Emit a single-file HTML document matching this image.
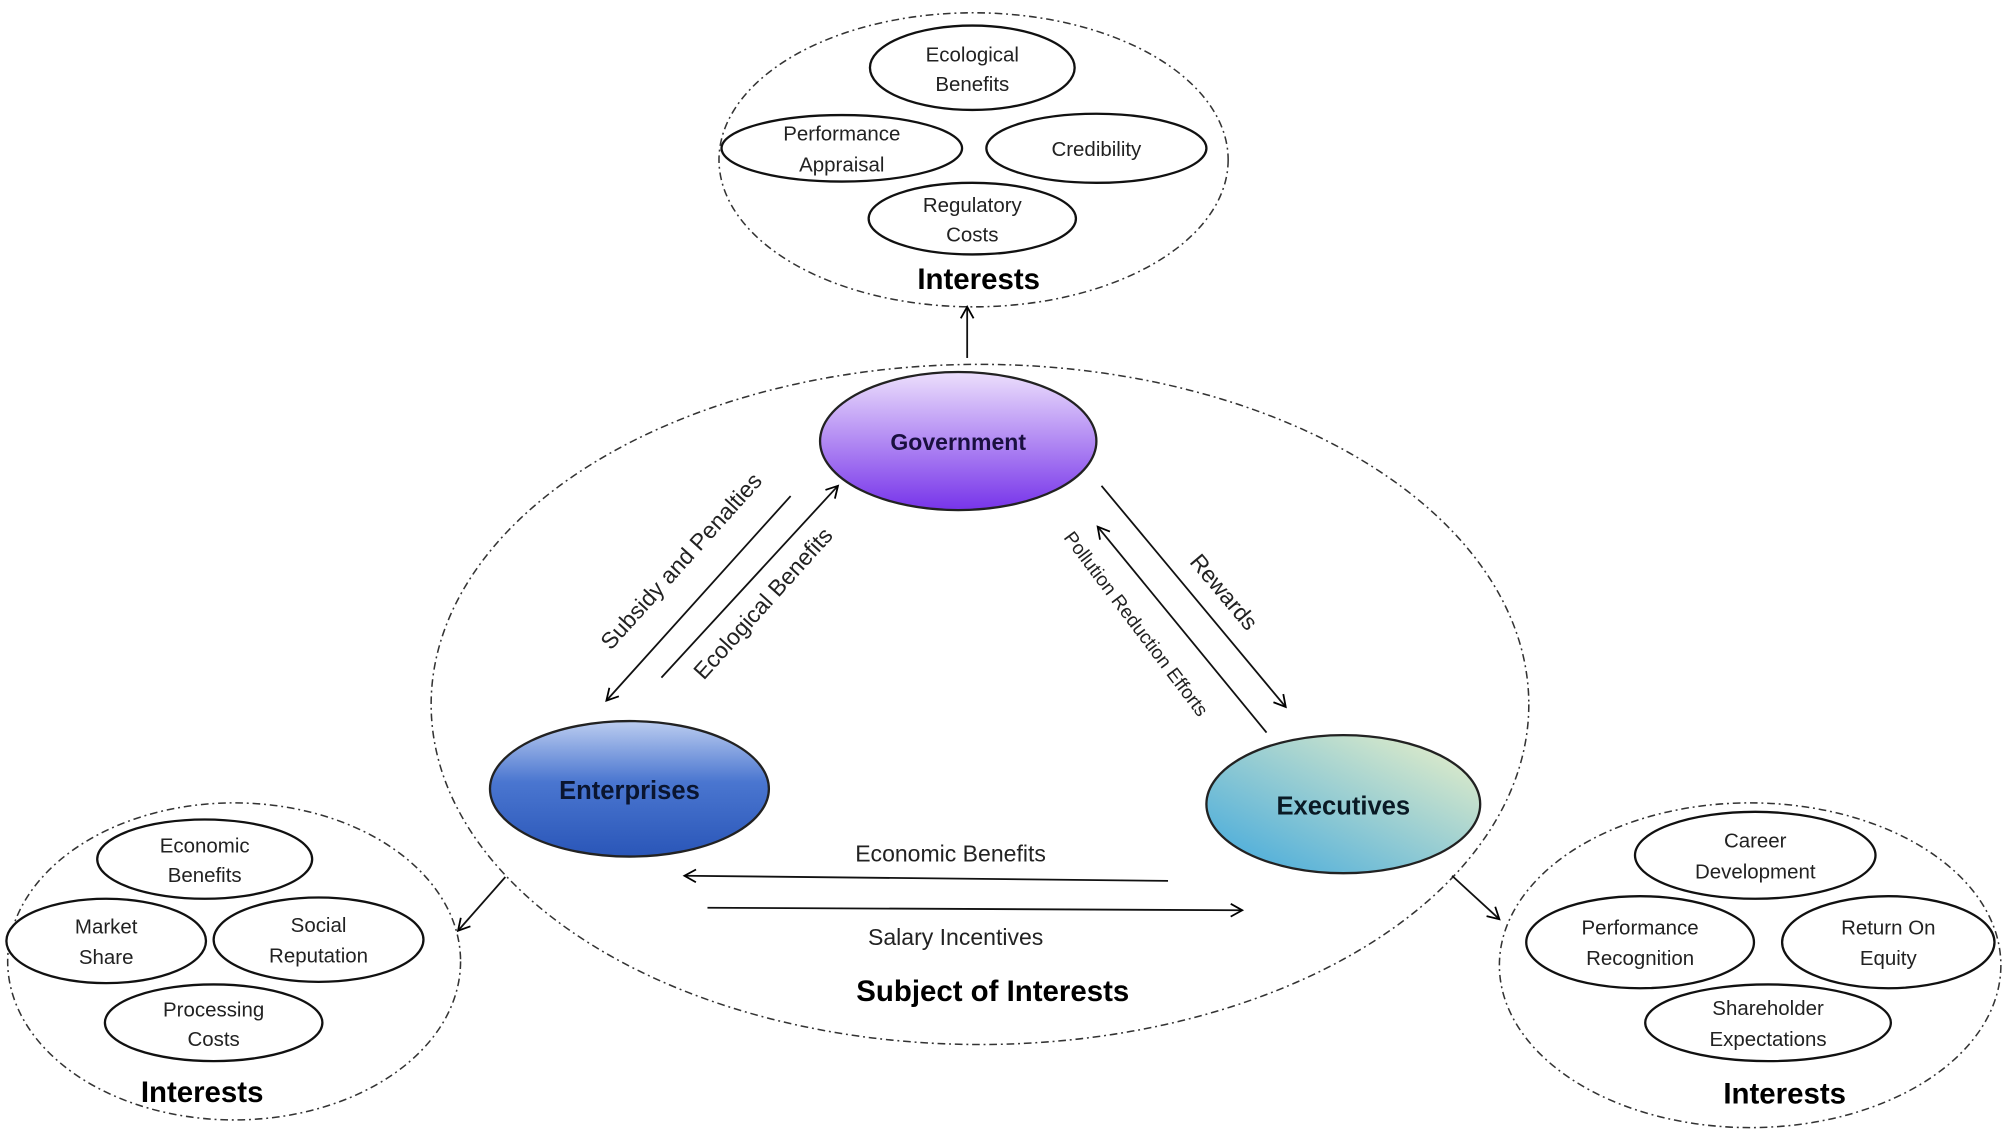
<!DOCTYPE html>
<html><head><meta charset="utf-8"><style>html,body{margin:0;padding:0;background:#fff}svg{display:block}</style></head><body>
<svg width="2006" height="1134" viewBox="0 0 1568 887" preserveAspectRatio="none" xmlns="http://www.w3.org/2000/svg" font-family="Liberation Sans, sans-serif">
<defs>
<linearGradient id="gp" x1="0" y1="0" x2="0" y2="1"><stop offset="0" stop-color="#ecdffc"/><stop offset="1" stop-color="#7734ea"/></linearGradient>
<linearGradient id="gb" x1="0" y1="0" x2="0" y2="1"><stop offset="0" stop-color="#bccdf0"/><stop offset="0.45" stop-color="#4a76d0"/><stop offset="1" stop-color="#2a56b8"/></linearGradient>
<linearGradient id="gc" x1="0" y1="1" x2="1" y2="0"><stop offset="0" stop-color="#3ea7dd"/><stop offset="1" stop-color="#eef2c8"/></linearGradient>
<marker id="a" markerWidth="12" markerHeight="12" refX="10" refY="6" orient="auto" markerUnits="userSpaceOnUse"><path d="M1,1 L10,6 L1,11" fill="none" stroke="#000" stroke-width="1.4"/></marker>
</defs>
<g fill="none" stroke="#333" stroke-width="1.2" stroke-dasharray="6,3,1.5,3">
<ellipse cx="761" cy="125" rx="199" ry="115"/>
<ellipse cx="766" cy="551" rx="429" ry="266"/>
<ellipse cx="183" cy="752" rx="177" ry="124"/>
<ellipse cx="1368" cy="755" rx="196" ry="127"/>
</g>
<g fill="#fff" stroke="#111" stroke-width="1.8">
<ellipse cx="760" cy="53" rx="80" ry="33"/>
<ellipse cx="658" cy="116" rx="94" ry="26"/>
<ellipse cx="857" cy="116" rx="86" ry="27"/>
<ellipse cx="760" cy="171" rx="81" ry="28"/>
<ellipse cx="160" cy="672" rx="84" ry="31"/>
<ellipse cx="83" cy="736" rx="78" ry="33"/>
<ellipse cx="249" cy="735" rx="82" ry="33"/>
<ellipse cx="167" cy="800" rx="85" ry="30"/>
<ellipse cx="1372" cy="669" rx="94" ry="34"/>
<ellipse cx="1282" cy="737" rx="89" ry="36"/>
<ellipse cx="1476" cy="737" rx="83" ry="36"/>
<ellipse cx="1382" cy="800" rx="96" ry="30"/>
</g>
<ellipse cx="749" cy="345" rx="108" ry="54" fill="url(#gp)" stroke="#222" stroke-width="1.8"/>
<ellipse cx="492" cy="617" rx="109" ry="53" fill="url(#gb)" stroke="#222" stroke-width="1.8"/>
<ellipse cx="1050" cy="629" rx="107" ry="54" fill="url(#gc)" stroke="#222" stroke-width="1.8"/>
<g stroke="#111" stroke-width="1.4" marker-end="url(#a)">
<line x1="756" y1="280" x2="756" y2="240"/>
<line x1="618" y1="388" x2="474" y2="548"/>
<line x1="517" y1="530" x2="655" y2="380"/>
<line x1="861" y1="380" x2="1005" y2="553"/>
<line x1="990" y1="573" x2="858" y2="412"/>
<line x1="913" y1="689" x2="535" y2="685"/>
<line x1="553" y1="710" x2="971" y2="712"/>
<line x1="395" y1="686" x2="358" y2="728"/>
<line x1="1135" y1="685" x2="1172" y2="719"/>
</g>
<g font-size="16" fill="#222" text-anchor="middle">
<text x="760" y="48">Ecological</text><text x="760" y="71">Benefits</text>
<text x="658" y="110">Performance</text><text x="658" y="134">Appraisal</text>
<text x="857" y="122">Credibility</text>
<text x="760" y="166">Regulatory</text><text x="760" y="189">Costs</text>
<text x="160" y="667">Economic</text><text x="160" y="690">Benefits</text>
<text x="83" y="730">Market</text><text x="83" y="754">Share</text>
<text x="249" y="729">Social</text><text x="249" y="753">Reputation</text>
<text x="167" y="795">Processing</text><text x="167" y="818">Costs</text>
<text x="1372" y="663">Career</text><text x="1372" y="687">Development</text>
<text x="1282" y="731">Performance</text><text x="1282" y="755">Recognition</text>
<text x="1476" y="731">Return On</text><text x="1476" y="755">Equity</text>
<text x="1382" y="794">Shareholder</text><text x="1382" y="818">Expectations</text>
<text x="743" y="674" font-size="18">Economic Benefits</text>
<text x="747" y="739" font-size="18">Salary Incentives</text>
<text transform="translate(537,443) rotate(-48)" font-size="18">Subsidy and Penalties</text>
<text transform="translate(601,476) rotate(-48)" font-size="18">Ecological Benefits</text>
<text transform="translate(952,467) rotate(50)" font-size="18">Rewards</text>
<text transform="translate(884,491) rotate(53)" font-size="15">Pollution Reduction Efforts</text>
</g>
<g font-weight="bold" fill="#000" text-anchor="middle">
<text x="765" y="226" font-size="23">Interests</text>
<text x="776" y="783" font-size="23">Subject of Interests</text>
<text x="158" y="862" font-size="23">Interests</text>
<text x="1395" y="863" font-size="23">Interests</text>
<text x="749" y="352" font-size="18" fill="#1a1040">Government</text>
<text x="492" y="625" font-size="20" fill="#0a1530">Enterprises</text>
<text x="1050" y="637" font-size="20" fill="#0a1a25">Executives</text>
</g>
</svg>
</body></html>
